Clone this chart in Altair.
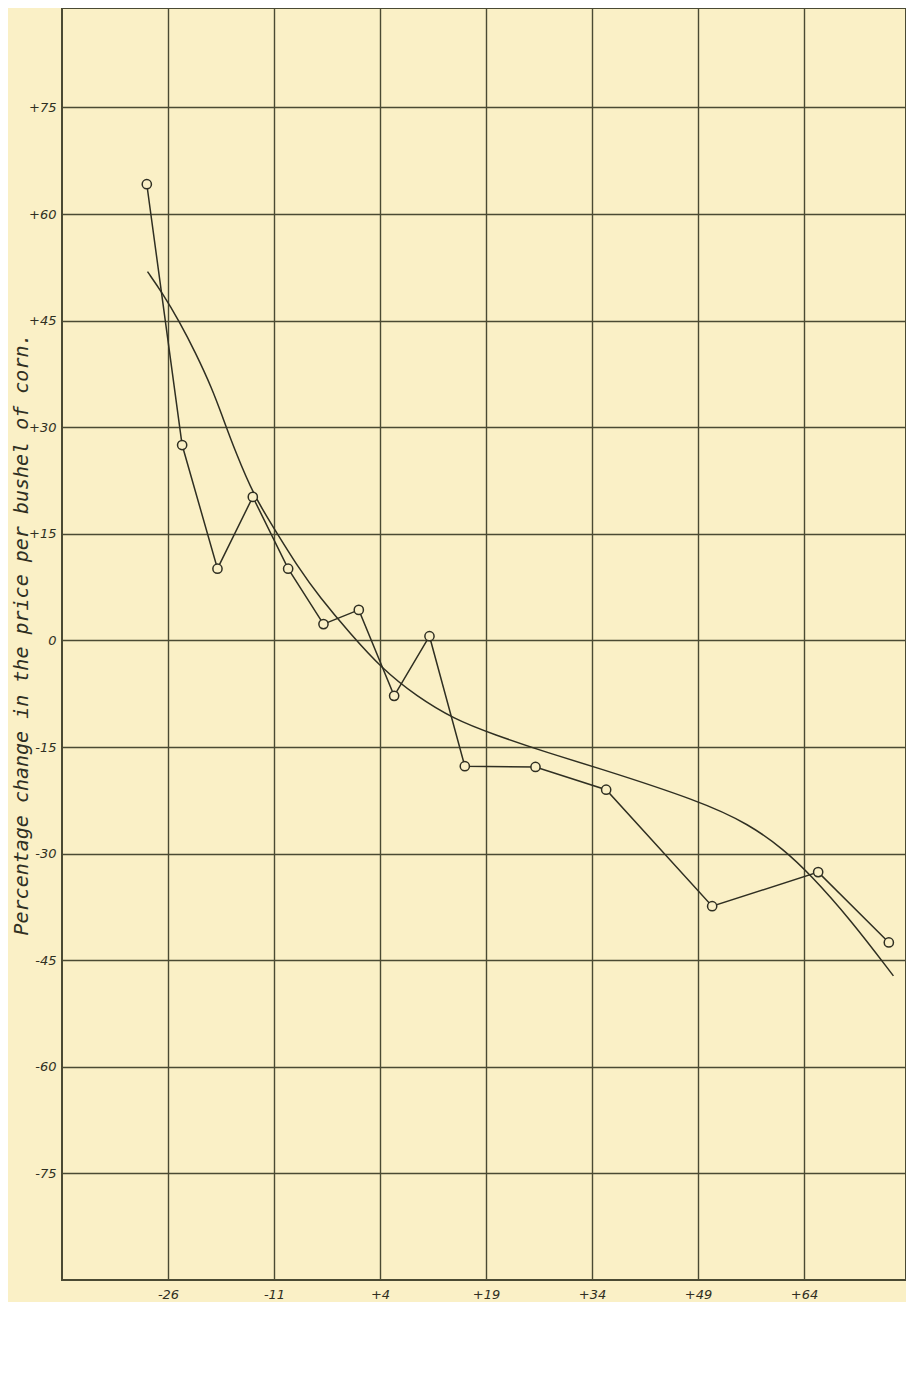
import altair as alt
import pandas as pd

# Observed points (open circles joined by straight lines)
obs_x = [-29, -24, -19, -14, -9, -4, 1, 6, 11, 16, 26, 36, 51, 66, 76]
obs_y = [64.2, 27.5, 10.1, 20.2, 10.1, 2.3, 4.3, -7.8, 0.6, -17.7, -17.8, -21.0, -37.4, -32.6, -42.5]

# Smooth fitted curve (read along its path)
fit_x = [-28.9, -26.8, -24.4, -22.1, -19.7, -18.3, -16.4, -13.8, -11.2, -7.4, -4.6, -0.35,
         4.4, 9.1, 14.5, 20.0, 28.0, 34.1, 49.3, 56.3, 61.1, 64.85, 70.5, 76.65]
fit_y = [51.9, 48.9, 44.9, 40.5, 35.3, 31.5, 26.4, 20.3, 16.1, 10.0, 6.2, 1.1,
         -4.1, -7.8, -11.1, -13.2, -15.9, -17.7, -22.6, -25.9, -29.4, -32.9, -39.2, -47.2]

x_ticks = [-26, -11, 4, 19, 34, 49, 64]
y_ticks = [75, 60, 45, 30, 15, 0, -15, -30, -45, -60, -75]
y_title = "Percentage change in the price per bushel of corn."

BG = "#FAF0C6"
INK = "#2f2f22"
GRID = "#4a4a33"
FONT = "DejaVu Sans"
TITLE_FONT = "DejaVu Sans Mono"

obs = pd.DataFrame({"x": obs_x, "y": obs_y, "order": list(range(len(obs_x)))})
fit = pd.DataFrame({"x": fit_x, "y": fit_y, "order": list(range(len(fit_x)))})

xscale = alt.Scale(domain=[-41, 78.43], nice=False, zero=False)
yscale = alt.Scale(domain=[-90, 89.0], nice=False, zero=False)

label_expr = "datum.value > 0 ? '+' + datum.value : '' + datum.value"

xaxis = alt.Axis(
    values=x_ticks, grid=True, gridColor=GRID, gridWidth=1.4, gridOpacity=1,
    domain=False, ticks=False, labelPadding=8, labelExpr=label_expr,
    labelFont=FONT, labelFontStyle="italic", labelFontSize=13, labelColor=INK,
    title=None,
)
yaxis = alt.Axis(
    values=y_ticks, grid=True, gridColor=GRID, gridWidth=1.4, gridOpacity=1,
    domain=False, ticks=False, labelPadding=6, labelExpr=label_expr,
    labelFont=FONT, labelFontStyle="italic", labelFontSize=13, labelColor=INK,
    title=y_title, titleFont=TITLE_FONT, titleFontStyle="italic", titleFontWeight="normal",
    titleFontSize=20, titleColor=INK, titleX=-35, titleY=626,
    titleBaseline="alphabetic", titleAngle=270,
)

base_x = alt.X("x:Q", scale=xscale, axis=xaxis)
base_y = alt.Y("y:Q", scale=yscale, axis=yaxis)

fit_line = alt.Chart(fit).mark_line(
    color=INK, strokeWidth=1.5, interpolate="basis", clip=True
).encode(x=base_x, y=base_y, order="order:Q")

obs_line = alt.Chart(obs).mark_line(
    color=INK, strokeWidth=1.5
).encode(x=alt.X("x:Q", scale=xscale), y=alt.Y("y:Q", scale=yscale), order="order:Q")

obs_pts = alt.Chart(obs).mark_point(
    shape="circle", size=85, filled=True, fill=BG, stroke=INK, strokeWidth=1.5, opacity=1
).encode(x=alt.X("x:Q", scale=xscale), y=alt.Y("y:Q", scale=yscale))

chart = alt.layer(fit_line, obs_line, obs_pts).properties(
    width=844, height=1272,
    background=BG,
    padding={"left": 54, "top": 0, "right": 0, "bottom": 22},
    autosize=alt.AutoSizeParams(type="none"),
).configure_view(stroke=GRID, strokeWidth=2)

chart.save("out.html", embed_options={"renderer": "svg", "actions": False})
